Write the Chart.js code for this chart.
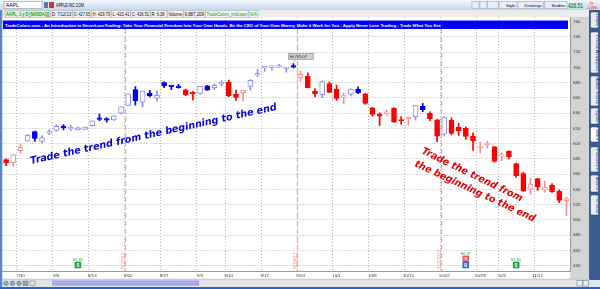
<!DOCTYPE html>
<html><head><meta charset="utf-8">
<script src="https://cdn.jsdelivr.net/npm/chart.js@4.4.0/dist/chart.umd.min.js"></script>
<style>
html,body{margin:0;padding:0;width:600px;height:289px;overflow:hidden;background:#dfe8f5;font-family:"Liberation Sans",Arial,sans-serif}
svg,canvas{position:absolute;left:0;top:0}
</style></head><body>
<svg id="bg" width="600" height="289" font-family="Liberation Sans, Arial, sans-serif">
<defs><linearGradient id="tb" x1="0" y1="0" x2="0" y2="1"><stop offset="0" stop-color="#f3f7fd"/><stop offset="1" stop-color="#c4d6ef"/></linearGradient></defs>
<rect width="600" height="289" fill="#dfe8f5"/>
<rect x="0" y="0" width="600" height="10" fill="url(#tb)"/>
<rect x="0" y="10" width="2.5" height="279" fill="#5a86c8"/>
<rect x="2.5" y="10" width="587" height="7.5" fill="#ececec"/>
<rect x="2.5" y="17" width="568" height="262" fill="#ffffff"/>
<rect x="570.5" y="17" width="19" height="263" fill="#d4d4d4"/>
<rect x="589" y="10" width="11" height="270" fill="#3b5d91"/>
<rect x="2.5" y="279" width="587" height="8" fill="#e2e2e2"/>
<line x1="2.5" y1="279.2" x2="589" y2="279.2" stroke="#b0b0b0" stroke-width="0.6"/>
<rect x="52" y="280.3" width="147" height="5.5" fill="#a8a8ee"/>
<rect x="0" y="287" width="600" height="2" fill="#2f62c2"/>
<g fill="#8ea6c6" stroke="#56708f" stroke-width="0.5">
<circle cx="6" cy="283.3" r="2.3"/><circle cx="12.5" cy="283.3" r="2.3"/><circle cx="19" cy="283.3" r="2.3"/><rect x="23" y="281" width="5" height="4.6"/><rect x="30" y="281" width="5" height="4.6" fill="#e8e8e8"/>
<rect x="577" y="280.5" width="5.5" height="5.5" fill="#e8eef8"/><rect x="583" y="280.5" width="5.5" height="5.5" fill="#e8eef8"/>
</g>
<!-- top bar -->
<rect x="4" y="1.5" width="38" height="7" fill="#fff" stroke="#7f9db9" stroke-width="0.6"/>
<text x="6" y="7.3" font-size="5" fill="#000">AAPL</text>
<rect x="44" y="2" width="4" height="6" fill="#5577aa"/>
<rect x="49" y="2" width="5" height="6" fill="#cc3333"/>
<text x="56" y="7.3" font-size="4.8" fill="#000" textLength="28" lengthAdjust="spacingAndGlyphs">APPLE INC COM</text>
<g font-size="4.2" fill="#000" stroke="none">
<rect x="472" y="1.5" width="7" height="7" fill="#e8eef6" stroke="#8aa0c0" stroke-width="0.5"/>
<rect x="480" y="1.5" width="7" height="7" fill="#e8eef6" stroke="#8aa0c0" stroke-width="0.5"/>
<rect x="487.5" y="1.5" width="11" height="7" fill="#e8eef6" stroke="#8aa0c0" stroke-width="0.5"/>
<rect x="499" y="1.5" width="18" height="7" fill="#e8eef6" stroke="#8aa0c0" stroke-width="0.5"/>
<rect x="518" y="1.5" width="25.5" height="7" fill="#e8eef6" stroke="#8aa0c0" stroke-width="0.5"/>
<rect x="544.5" y="1.5" width="22.5" height="7" fill="#e8eef6" stroke="#8aa0c0" stroke-width="0.5"/>
<text x="506" y="6.6">Style</text>
<text x="524.5" y="6.6">Drawings</text>
<text x="551.5" y="6.6">Studies</text>
</g>
<text x="568" y="8" font-size="6.3" font-weight="bold" fill="#1c9a1c" textLength="15" lengthAdjust="spacingAndGlyphs">426.51</text>
<text x="587.5" y="4.5" font-size="3.4" fill="#e00000">-.79</text>
<text x="586.5" y="8.6" font-size="3.4" fill="#e00000">-0.18%</text>
<!-- info row -->
<g font-size="4.6" stroke="none">
<rect x="5" y="10.8" width="45" height="6.4" fill="#e6f3e6" stroke="#999" stroke-width="0.5"/>
<text x="6" y="15.6" fill="#159515" font-weight="bold" textLength="43" lengthAdjust="spacingAndGlyphs">AAPL, 1 y D [NASDAQ]</text>
<rect x="51" y="10.8" width="21" height="6.4" fill="#f6f6f6" stroke="#999" stroke-width="0.5"/>
<text x="52" y="15.6" fill="#000" textLength="19" lengthAdjust="spacingAndGlyphs">D: 7/12/13</text>
<rect x="72.5" y="10.8" width="18.5" height="6.4" fill="#f6f6f6" stroke="#999" stroke-width="0.5"/>
<text x="73.5" y="15.6" fill="#000" textLength="16.5" lengthAdjust="spacingAndGlyphs">O: 427.65</text>
<rect x="91.5" y="10.8" width="19.5" height="6.4" fill="#f6f6f6" stroke="#999" stroke-width="0.5"/>
<text x="92.5" y="15.6" fill="#000" textLength="17.5" lengthAdjust="spacingAndGlyphs">H: 429.79</text>
<rect x="111.5" y="10.8" width="19" height="6.4" fill="#f6f6f6" stroke="#999" stroke-width="0.5"/>
<text x="112.5" y="15.6" fill="#000" textLength="17" lengthAdjust="spacingAndGlyphs">L: 423.41</text>
<rect x="131" y="10.8" width="19" height="6.4" fill="#f6f6f6" stroke="#999" stroke-width="0.5"/>
<text x="132" y="15.6" fill="#000" textLength="17" lengthAdjust="spacingAndGlyphs">C: 426.51</text>
<rect x="150.5" y="10.8" width="16.5" height="6.4" fill="#f6f6f6" stroke="#999" stroke-width="0.5"/>
<text x="151.5" y="15.6" fill="#000" textLength="13" lengthAdjust="spacingAndGlyphs">R: 6.38</text>
<rect x="167.5" y="10.8" width="15.5" height="6.4" fill="#f6f6f6" stroke="#999" stroke-width="0.5"/>
<text x="168.5" y="15.6" fill="#000" textLength="13.5" lengthAdjust="spacingAndGlyphs">Volume</text>
<rect x="183.5" y="10.8" width="21.5" height="6.4" fill="#f6f6f6" stroke="#999" stroke-width="0.5"/>
<text x="184.5" y="15.6" fill="#000" textLength="19.5" lengthAdjust="spacingAndGlyphs">9,887,209</text>
<rect x="205.5" y="10.8" width="42.5" height="6.4" fill="#f6f6f6" stroke="#999" stroke-width="0.5"/>
<text x="206.5" y="15.6" fill="#159515" textLength="40.5" lengthAdjust="spacingAndGlyphs">TradeColors_Indicator</text>
<rect x="248.5" y="10.8" width="9.5" height="6.4" fill="#f6f6f6" stroke="#999" stroke-width="0.5"/>
<text x="249.5" y="15.6" fill="#159515" textLength="7.5" lengthAdjust="spacingAndGlyphs">N/A</text>
</g>
<!-- right tabs -->
<g fill="#e6edf8" stroke="#22406e" stroke-width="0.5">
<rect x="590.5" y="12" width="8" height="16" rx="1.5"/>
<rect x="590.5" y="32" width="8" height="41" rx="1.5"/>
<rect x="590.5" y="76" width="8" height="30" rx="1.5"/>
<rect x="590.5" y="108" width="8" height="16" rx="1.5"/>
<rect x="590.5" y="127" width="8" height="15" rx="1.5" fill="#ffffff"/>
<rect x="590.5" y="147" width="8" height="25" rx="1.5"/>
<rect x="590.5" y="175" width="8" height="17" rx="1.5"/>
<rect x="590.5" y="195" width="8" height="20" rx="1.5"/>
</g>
<g font-size="3.3" fill="#1a2a4a">
<text transform="translate(595.8,14) rotate(90)" textLength="12" lengthAdjust="spacingAndGlyphs">Details</text>
<text transform="translate(595.8,34) rotate(90)" textLength="37" lengthAdjust="spacingAndGlyphs">Trend Analysis</text>
<text transform="translate(595.8,78) rotate(90)" textLength="26" lengthAdjust="spacingAndGlyphs">Active Trades</text>
<text transform="translate(595.8,110) rotate(90)" textLength="12" lengthAdjust="spacingAndGlyphs">Signals</text>
<text transform="translate(595.8,129) rotate(90)" textLength="11" lengthAdjust="spacingAndGlyphs">Watch</text>
<text transform="translate(595.8,149) rotate(90)" textLength="21" lengthAdjust="spacingAndGlyphs">Favorites</text>
<text transform="translate(595.8,177) rotate(90)" textLength="13" lengthAdjust="spacingAndGlyphs">Alerts</text>
<text transform="translate(595.8,197) rotate(90)" textLength="16" lengthAdjust="spacingAndGlyphs">Tick Values</text>
</g>
</svg>
<canvas id="c" width="600" height="289"></canvas>
<svg id="fg" width="600" height="289" font-family="Liberation Sans, Arial, sans-serif">
<rect x="3" y="20.5" width="565" height="8.5" fill="#0000ff"/>
<text x="5" y="26.6" font-size="4.3" font-weight="bold" fill="#ffffff" textLength="436" lengthAdjust="spacingAndGlyphs">TradeColors.com  -  An Introduction to NeverLoseTrading: Take Your Financial Freedom Into Your Own Hands. Be the CEO of Your Own Money, Make it Work for You  -  Apply Never Lose Trading  -  Trade What You See</text>
<g id="dyn"></g>
<g font-family="DejaVu Sans, Verdana, sans-serif" font-weight="bold" font-style="italic">
<text transform="translate(31,164) rotate(-12.4)" font-size="10" fill="#0000dd" textLength="252" lengthAdjust="spacingAndGlyphs">Trade the trend from the beginning to the end</text>
<text transform="translate(421,153) rotate(26)" font-size="10" fill="#ee0000" textLength="111" lengthAdjust="spacingAndGlyphs">Trade the trend from</text>
<text transform="translate(414,166) rotate(25)" font-size="10" fill="#ee0000" textLength="132" lengthAdjust="spacingAndGlyphs">the beginning to the end</text>
</g>
</svg>
<script>
// ---- data (AAPL daily) ----
const dates = ['7/26','7/27',
 '7/30','7/31','8/1','8/2','8/3',
 '8/6','8/7','8/8','8/9','8/10',
 '8/13','8/14','8/15','8/16','8/17',
 '8/20','8/21','8/22','8/23','8/24',
 '8/27','8/28','8/29','8/30','8/31',
 '9/4','9/5','9/6','9/7',
 '9/10','9/11','9/12','9/13','9/14',
 '9/17','9/18','9/19','9/20','9/21',
 '9/24','9/25','9/26','9/27','9/28',
 '10/1','10/2','10/3','10/4','10/5',
 '10/8','10/9','10/10','10/11','10/12',
 '10/15','10/16','10/17','10/18','10/19',
 '10/22','10/23','10/24','10/25','10/26',
 '10/31','11/1','11/2',
 '11/5','11/6','11/7','11/8','11/9',
 '11/12','11/13','11/14','11/15','11/16'];
const opens = [579.0,575.0,
 590.9,603.2,615.9,602.8,613.6,
 617.3,622.8,619.4,617.8,618.7,
 623.4,631.9,631.3,631.2,640.0,
 650.0,670.8,654.4,666.1,659.5,
 680.0,675.0,675.3,670.6,667.3,
 665.8,675.6,673.2,678.1,
 680.5,665.1,666.9,674.9,690.0,
 699.4,699.9,700.3,698.5,702.4,
 686.9,688.3,668.7,664.3,678.8,
 671.2,660.9,664.9,671.3,665.2,
 646.9,638.7,639.7,646.5,630.0,
 632.4,635.4,648.9,639.6,631.1,
 612.4,631.0,621.4,620.0,609.4,
 594.9,598.5,595.9,
 583.5,590.2,573.8,560.6,540.4,
 554.2,538.9,545.5,537.5,525.2];
const highs = [580.0,585.8,
 599.4,611.7,616.4,610.7,618.0,
 624.9,625.0,623.9,621.7,621.8,
 630.0,638.6,634.0,636.8,648.2,
 665.2,674.9,669.0,669.9,669.0,
 680.9,676.1,677.7,671.6,668.6,
 675.1,676.3,678.3,682.5,
 683.3,670.1,669.9,683.9,697.0,
 699.8,702.3,704.0,700.1,705.07,
 695.1,692.8,672.1,682.2,681.1,
 676.8,666.4,671.9,674.3,666.0,
 647.6,640.5,644.0,647.2,635.4,
 635.1,650.3,652.8,642.1,631.8,
 635.4,633.9,626.6,622.0,614.0,
 602.0,603.0,596.3,
 587.8,590.7,574.5,562.2,554.9,
 554.5,550.5,547.5,539.5,530.0];
const lows = [571.0,570.0,
 587.8,603.0,603.0,600.3,611.6,
 616.1,618.0,617.1,617.8,618.7,
 623.3,630.2,628.0,630.3,638.8,
 649.9,650.3,648.1,661.2,655.6,
 673.5,670.7,672.6,662.9,657.3,
 664.5,669.6,670.8,675.8,
 661.5,656.5,656.0,670.1,687.9,
 694.6,696.4,699.6,693.6,699.4,
 682.0,673.0,661.2,660.4,666.8,
 656.5,652.3,662.6,665.6,651.3,
 636.1,623.6,637.0,628.1,625.3,
 623.9,631.0,642.0,630.0,602.6,
 610.0,611.7,610.6,605.6,591.0,
 587.7,594.2,575.8,
 577.6,580.1,555.8,537.8,533.7,
 538.7,536.4,536.0,522.6,505.8];
const closes = [574.9,585.2,
 595.0,610.8,606.8,607.8,615.7,
 622.6,620.9,619.9,620.7,621.7,
 630.0,631.7,630.8,636.3,648.1,
 665.2,656.1,668.9,662.6,663.2,
 675.7,674.8,673.5,663.9,665.2,
 675.0,670.2,676.3,680.4,
 662.7,660.6,669.8,683.0,691.3,
 699.8,701.9,702.1,698.7,700.1,
 690.8,673.5,665.2,681.3,667.1,
 659.4,661.3,671.5,666.8,652.6,
 638.2,635.9,640.9,628.1,629.7,
 634.8,649.8,644.6,632.6,609.8,
 634.0,613.4,616.8,609.5,604.0,
 595.3,599.0,576.8,
 584.6,582.9,558.0,537.8,547.1,
 542.8,542.9,536.9,525.6,527.7];
// trend colour of each candle: B = blue (up trend), R = red (down trend)
const trend = ['R','R',
 'R','B','B','B','B',
 'B','B','B','B','B',
 'B','B','B','B','B',
 'B','B','B','B','B',
 'B','B','B','R','R',
 'B','B','B','B',
 'R','R','R','B','B',
 'B','B','B','B','B',
 'R','R','R','B','R',
 'R','R','B','B','R',
 'R','R','R','R','R',
 'R','B','B','R','R',
 'B','R','R','R','R',
 'R','R','R',
 'R','R','R','R','R',
 'R','R','R','R','R'];
const weekTickDates  = ['7/30','8/6','8/13','8/20','8/27','9/4','9/10','9/17','9/24','10/1','10/8','10/15','10/22','10/31','11/5','11/12'];
const weekTickLabels = ['7/30','8/6','8/13','8/20','8/27','9/3','9/10','9/17','9/24','10/1','10/8','10/15','10/22','10/29','11/5','11/12'];
const yTicks = [440,460,480,500,520,540,560,580,600,620,640,660,680,700,720,740,760];
const signalLineDates  = ['8/20','9/24','10/22'];
const signalLineLabels = ['8/20/12','9/24/12','10/22/12'];
const signalDates  = ['8/9','10/25','11/7'];
const signalNames  = ['E1_65','E6_67','E1_65'];
const signalKinds  = ['G','RB','G'];

// ---- styling ----
const COL = {B:{fill:'#0000f0', light:'#8c8cff'}, R:{fill:'#ff0000', light:'#ff8c8c'}};
const filled = closes.map((c,i)=>c < opens[i]);
const bodyBg = dates.map((d,i)=> filled[i] ? COL[trend[i]].fill : '#ffffff');
const bodyBd = dates.map((d,i)=> filled[i] ? COL[trend[i]].fill : COL[trend[i]].light);
const tickMap = {}; weekTickDates.forEach((d,i)=>tickMap[d]=weekTickLabels[i]);
const weekIdx = new Set(weekTickDates.map(d=>dates.indexOf(d)));

const chart = new Chart(document.getElementById('c'), {
  type:'bar',
  data:{ labels:dates, datasets:[
    { label:'Body', data:opens.map((o,i)=>[o, closes[i]]), backgroundColor:bodyBg, borderColor:bodyBd,
      borderWidth:1, borderSkipped:false, barThickness:5, grouped:false, order:0, minBarLength:1.5 },
    { label:'Range', data:lows.map((l,i)=>[l, highs[i]]), backgroundColor:bodyBd, borderWidth:0,
      barThickness:1, grouped:false, order:1, minBarLength:1 }
  ]},
  options:{
    responsive:false, animation:false, devicePixelRatio:1, events:[],
    layout:{padding:{left:2.5, top:17, right:10, bottom:10}},
    plugins:{legend:{display:false}, tooltip:{enabled:false}},
    scales:{
      x:{ offset:true,
          grid:{ offset:true, drawTicks:false, lineWidth:1,
                 color: c => weekIdx.has(c.index) ? '#b8b8b8' : 'rgba(0,0,0,0)' },
          border:{ display:true, color:'#9a9a9a', dash:[1,2] },
          ticks:{ autoSkip:false, maxRotation:0, minRotation:0, padding:2.5, color:'#333',
                  font:{size:4.4, family:'Liberation Sans'},
                  callback:(v,i)=> tickMap[dates[i]] || '' },
          afterFit: s => { s.height = 8; } },
      y:{ position:'right', min:433, max:766,
          afterBuildTicks: s => { s.ticks = yTicks.map(v=>({value:v})); },
          grid:{ drawTicks:false, color:'#b8b8b8', lineWidth:1 },
          border:{ display:true, color:'#9a9a9a', dash:[1,2] },
          ticks:{ padding:3, color:'#333', font:{size:4.4, family:'Liberation Sans'} },
          afterFit: s => { s.width = 20; } }
    }
  }
});

// ---- annotations positioned through the chart scales ----
const NS='http://www.w3.org/2000/svg';
const dyn=document.getElementById('dyn');
function el(tag, attrs, text){const e=document.createElementNS(NS,tag); for(const k in attrs) e.setAttribute(k, attrs[k]); if(text!==undefined) e.textContent=text; dyn.appendChild(e); return e;}
const xs=chart.scales.x, ys=chart.scales.y, area=chart.chartArea;
const half=(xs.getPixelForValue(1)-xs.getPixelForValue(0))/2;
signalLineDates.forEach((d,j)=>{
  const px=Math.round(xs.getPixelForValue(dates.indexOf(d))-half)+0.5;
  el('line',{x1:px,y1:29,x2:px,y2:area.bottom,stroke:'#ffa0a0','stroke-width':1.3,'stroke-dasharray':'5,3'});
  el('text',{transform:`translate(${px-1},${area.bottom-2}) rotate(-90)`,'font-size':5,fill:'#ff8c8c'},signalLineLabels[j]);
});
const hiIdx=highs.indexOf(Math.max(...highs));
const hx=xs.getPixelForValue(hiIdx), hy=ys.getPixelForValue(highs[hiIdx]);
el('line',{x1:hx,y1:hy-1,x2:hx+2,y2:hy-4,stroke:'#888','stroke-width':0.5});
el('rect',{x:hx-5,y:hy-10,width:25,height:6,fill:'#cfcfcf',stroke:'#777','stroke-width':0.5});
el('text',{x:hx-3.5,y:hy-5.4,'font-size':4,fill:'#222'},'Hi '+highs[hiIdx].toFixed(2));
signalDates.forEach((d,j)=>{
  const px=xs.getPixelForValue(dates.indexOf(d));
  const by=area.bottom-9;
  if(signalKinds[j]==='G'){
    el('rect',{x:px-3,y:by,width:6,height:6,fill:'#1fa84a',stroke:'#0d7a30','stroke-width':0.4});
    el('text',{x:px,y:by+4.6,'font-size':4.5,'font-weight':'bold',fill:'#fff','text-anchor':'middle'},'S');
    el('text',{x:px,y:by-1.3,'font-size':3.4,fill:'#159515','text-anchor':'middle'},signalNames[j]);
  } else {
    el('rect',{x:px-3,y:by-6,width:6,height:5.6,fill:'#f06a6a',stroke:'#c01010','stroke-width':0.4});
    el('text',{x:px,y:by-1.6,'font-size':4.3,'font-weight':'bold',fill:'#fff','text-anchor':'middle'},'S');
    el('rect',{x:px-3,y:by,width:6,height:6,fill:'#2a6ae8',stroke:'#1040b0','stroke-width':0.4});
    el('text',{x:px,y:by+4.6,'font-size':4.5,'font-weight':'bold',fill:'#fff','text-anchor':'middle'},'B');
    el('text',{x:px,y:by-7.3,'font-size':3.4,fill:'#159515','text-anchor':'middle'},signalNames[j]);
  }
});
</script>
</body></html>
